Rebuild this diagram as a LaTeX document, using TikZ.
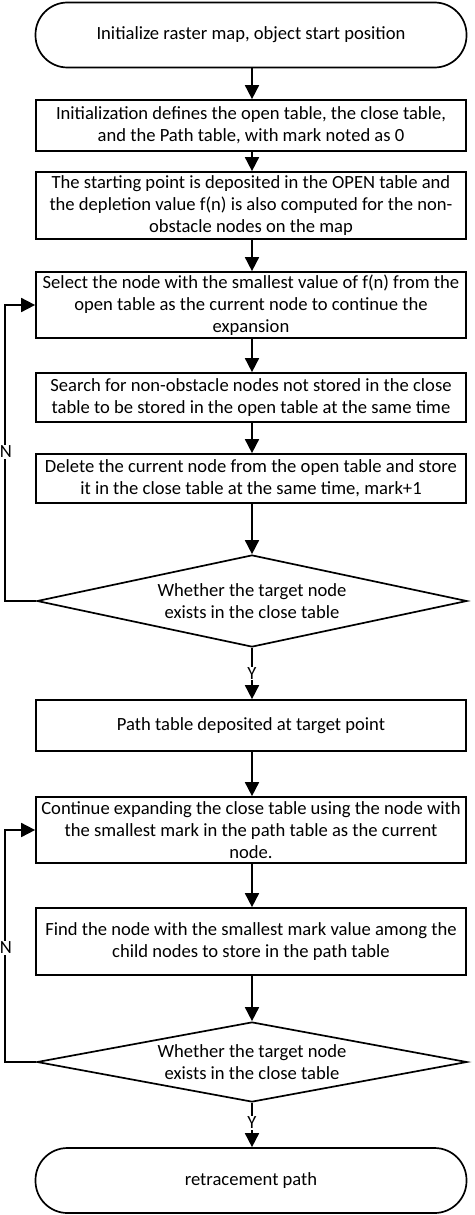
\documentclass[tikz,border=0pt]{standalone}
\usepackage{fontspec}
\setmainfont{Carlito}
\usetikzlibrary{arrows.meta,shapes.geometric}
\tikzset{
  base/.style={draw=black, line width=1.7pt, align=center, font=\fontsize{18.6}{22}\selectfont, inner sep=0pt},
  proc/.style={base, rectangle, minimum width=430pt},
  term/.style={base, rectangle, rounded corners=32pt, minimum width=431pt, minimum height=65pt},
  decision/.style={draw=black, line width=1.7pt, diamond, minimum width=430pt, minimum height=92pt, inner sep=0pt},
  dtext/.style={align=center, font=\fontsize{18.6}{22}\selectfont},
  arr/.style={line width=1.7pt, -{Triangle[width=14pt,length=14pt]}},
  lbl/.style={font=\fontsize{18.6}{20}\selectfont, fill=white, inner sep=1pt},
}
\begin{document}
\begin{tikzpicture}[x=1pt,y=-1pt]
\useasboundingbox (0,0) rectangle (474,1215);
\node[term] (t1) at (251,35) {Initialize raster map, object start position};
\node[proc, minimum height=51pt] (b2) at (251,125.5) {Initialization defines the open table, the close table,\\and the Path table, with mark noted as 0};
\node[proc, minimum height=67pt] (b3) at (251,205.5) {The starting point is deposited in the OPEN table and\\the depletion value f(n) is also computed for the non-\\obstacle nodes on the map};
\node[proc, minimum height=66pt] (b4) at (251,305) {Select the node with the smallest value of f(n) from the\\open table as the current node to continue the\\expansion};
\node[proc, minimum height=49pt] (b5) at (251,397.5) {Search for non-obstacle nodes not stored in the close\\table to be stored in the open table at the same time};
\node[proc, minimum height=49pt] (b6) at (251,478.5) {Delete the current node from the open table and store\\it in the close table at the same time, mark+1};
\node[decision] (d1) at (252,601) {};
\node[dtext] at (d1) {Whether the target node\\exists in the close table};
\node[proc, minimum height=51pt] (b7) at (251,725.5) {Path table deposited at target point};
\node[proc, minimum height=66pt] (b8) at (251,830) {Continue expanding the close table using the node with\\the smallest mark in the path table as the current\\node.};
\node[proc, minimum height=67pt] (b9) at (251,941.5) {Find the node with the smallest mark value among the\\child nodes to store in the path table};
\node[decision, minimum height=80pt] (d2) at (252,1062) {};
\node[dtext] at (d2) {Whether the target node\\exists in the close table};
\node[term] (t2) at (251,1180.5) {retracement path};

\draw[arr] (t1.south -| 252,0) -- (b2.north -| 252,0);
\draw[arr] (b2.south -| 252,0) -- (b3.north -| 252,0);
\draw[arr] (b3.south -| 252,0) -- (b4.north -| 252,0);
\draw[arr] (b4.south -| 252,0) -- (b5.north -| 252,0);
\draw[arr] (b5.south -| 252,0) -- (b6.north -| 252,0);
\draw[arr] (b6.south -| 252,0) -- (d1.north);
\draw[arr] (d1.south) -- node[lbl, pos=0.5] {Y} (b7.north -| 252,0);
\draw[arr] (b7.south -| 252,0) -- (b8.north -| 252,0);
\draw[arr] (b8.south -| 252,0) -- (b9.north -| 252,0);
\draw[arr] (b9.south -| 252,0) -- (d2.north);
\draw[arr] (d2.south) -- node[lbl, pos=0.45] {Y} (t2.north -| 252,0);
\coordinate (l1) at (5,601);
\coordinate (l2) at (5,1062);
\draw[arr] (d1.west) -- (l1) |- (b4.west);
\draw[arr] (d2.west) -- (l2) |- (b8.west);
\node[lbl] at (6,452) {N};
\node[lbl] at (6,948) {N};
\end{tikzpicture}
\end{document}
